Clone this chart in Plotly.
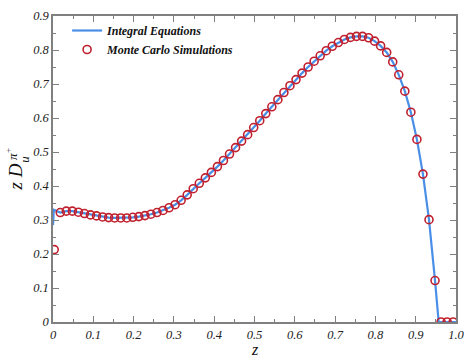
import plotly.graph_objects as go

# Monte Carlo simulation points
mc_z = [0.003, 0.018, 0.033, 0.048, 0.063, 0.078, 0.093, 0.108, 0.123, 0.138,
        0.153, 0.168, 0.183, 0.198, 0.213, 0.228, 0.243, 0.258, 0.273, 0.288,
        0.303, 0.318, 0.333, 0.348, 0.363, 0.378, 0.393, 0.408, 0.423, 0.438,
        0.453, 0.468, 0.483, 0.498, 0.513, 0.528, 0.543, 0.558, 0.573, 0.588,
        0.603, 0.618, 0.633, 0.648, 0.663, 0.678, 0.693, 0.708, 0.723, 0.738,
        0.753, 0.768, 0.783, 0.798, 0.813, 0.828, 0.843, 0.858, 0.873, 0.888,
        0.903, 0.918, 0.933, 0.948, 0.963, 0.978, 0.993]
mc_val = [0.213, 0.322, 0.326, 0.326, 0.323, 0.319, 0.315, 0.312, 0.309, 0.307,
          0.306, 0.306, 0.306, 0.308, 0.310, 0.313, 0.317, 0.322, 0.328, 0.336,
          0.345, 0.358, 0.374, 0.392, 0.408, 0.424, 0.440, 0.457, 0.475, 0.494,
          0.513, 0.532, 0.551, 0.572, 0.592, 0.613, 0.633, 0.654, 0.675, 0.695,
          0.713, 0.732, 0.750, 0.767, 0.783, 0.798, 0.811, 0.822, 0.831, 0.837,
          0.840, 0.840, 0.836, 0.826, 0.812, 0.793, 0.765, 0.727, 0.679, 0.617,
          0.537, 0.435, 0.301, 0.122, 0.0, 0.0, 0.0]

# Integral equations curve
ie_z = [0.0, 0.002] + mc_z[1:64] + [0.957, 0.975, 1.0]
ie_val = [0.285, 0.330] + mc_val[1:64] + [0.0, 0.0, 0.0]

x_ticks = [0, 0.1, 0.2, 0.3, 0.4, 0.5, 0.6, 0.7, 0.8, 0.9, 1.0]
x_labels = ["0", "0.1", "0.2", "0.3", "0.4", "0.5", "0.6", "0.7", "0.8", "0.9", "1.0"]
y_ticks = [0, 0.1, 0.2, 0.3, 0.4, 0.5, 0.6, 0.7, 0.8, 0.9]
y_labels = ["0", "0.1", "0.2", "0.3", "0.4", "0.5", "0.6", "0.7", "0.8", "0.9"]

SERIF = "Liberation Serif"
AXIS_COLOR = "#808080"

fig = go.Figure()
fig.add_trace(go.Scatter(
    x=ie_z, y=ie_val, mode="lines", name="Integral Equations",
    line=dict(color="#4a8fe7", width=2.2),
))
fig.add_trace(go.Scatter(
    x=mc_z, y=mc_val, mode="markers", name="Monte Carlo Simulations",
    marker=dict(symbol="circle-open", size=8, color="#c0202e",
                line=dict(width=1.6, color="#c0202e")),
))

axis_common = dict(
    showline=True, linecolor=AXIS_COLOR, linewidth=1.5, mirror="ticks",
    ticks="inside", ticklen=6, tickwidth=1, tickcolor=AXIS_COLOR,
    showgrid=False, zeroline=False,
    tickfont=dict(family=SERIF, size=12.5, color="#222", style="italic"),
    minor=dict(ticks="inside", ticklen=3, tickcolor=AXIS_COLOR, tickwidth=1,
               showgrid=False),
)

fig.update_xaxes(range=[0, 1.0], tickvals=x_ticks, ticktext=x_labels,
                 minor_dtick=0.05, **axis_common)
fig.update_yaxes(range=[0, 0.9], tickvals=y_ticks, ticktext=y_labels,
                 minor_dtick=0.05, **axis_common)

def px_x(p):
    return (p - 53) / 404.0

def px_y(p):
    return (322 - p) / 313.0

fig.update_layout(
    width=474, height=360,
    margin=dict(l=53, r=17, t=9, b=38),
    plot_bgcolor="white", paper_bgcolor="white",
    showlegend=True,
    legend=dict(x=0.035, y=1.0, xanchor="left", yanchor="top",
                bgcolor="rgba(0,0,0,0)", borderwidth=0,
                font=dict(family=SERIF, size=12, color="#111",
                          style="italic", weight="bold"),
                tracegroupgap=0, itemwidth=30),
    annotations=[
        dict(text="z", xref="paper", yref="paper", x=px_x(256), y=px_y(360),
             showarrow=False, xanchor="center", yanchor="bottom", borderpad=0,
             font=dict(family=SERIF, size=16, color="#111", style="italic")),
        dict(text="z D", xref="paper", yref="paper", x=px_x(15), y=px_y(174),
             showarrow=False, xanchor="center", yanchor="middle", textangle=-90,
             font=dict(family=SERIF, size=19, color="#111", style="italic")),
        dict(text="π<sup>+</sup>", xref="paper", yref="paper", x=px_x(11), y=px_y(150),
             showarrow=False, xanchor="center", yanchor="middle", textangle=-90,
             font=dict(family=SERIF, size=13, color="#111", style="italic")),
        dict(text="u", xref="paper", yref="paper", x=px_x(25), y=px_y(156),
             showarrow=False, xanchor="center", yanchor="middle", textangle=-90,
             font=dict(family=SERIF, size=13, color="#111", style="italic")),
    ],
)

fig.write_html("out.html",
               config={"displayModeBar": False},
               post_script="document.body.style.margin='0';document.body.style.overflow='hidden';")
